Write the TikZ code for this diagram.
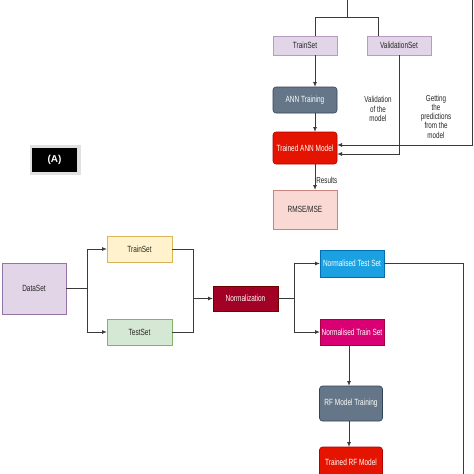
\documentclass[tikz,border=0pt]{standalone}
\usepackage{fontspec}
\setmainfont{Liberation Sans}[FakeStretch=0.72]
\newfontfamily\plainsans{Liberation Sans}
\usetikzlibrary{arrows.meta}
\definecolor{lnc}{HTML}{3A3A3A}
\definecolor{purf}{HTML}{E1D5E7}\definecolor{purd}{HTML}{9673A6}
\definecolor{yelf}{HTML}{FFF2CC}\definecolor{yeld}{HTML}{D6B656}
\definecolor{grnf}{HTML}{D5E8D4}\definecolor{grnd}{HTML}{82B366}
\definecolor{crimf}{HTML}{A20025}\definecolor{crimd}{HTML}{6F0000}
\definecolor{bluf}{HTML}{1BA1E2}\definecolor{blud}{HTML}{006EAF}
\definecolor{magf}{HTML}{D80073}\definecolor{magd}{HTML}{A50040}
\definecolor{slaf}{HTML}{647687}\definecolor{slad}{HTML}{314354}
\definecolor{redf}{HTML}{E51400}\definecolor{redd}{HTML}{B20000}
\definecolor{pinf}{HTML}{FAD9D5}\definecolor{pind}{HTML}{C9857D}
\begin{document}
\begin{tikzpicture}[x=1pt,y=-1pt,
  box/.style={rectangle,inner sep=0pt,outer sep=0pt,line width=0.6pt,align=center,
     font=\fontsize{9}{10}\selectfont,text=black!85},
  rbox/.style={box,rounded corners=3pt,text=white},
  ln/.style={draw=lnc,line width=0.9pt},
  arr/.style={ln,-{Latex[length=5pt,width=4pt]}},
  lbl/.style={align=center,inner sep=0pt,font=\fontsize{8.7}{9.2}\selectfont,text=black!85}]
\clip (0,0) rectangle (474,474);
\fill[white] (0,0) rectangle (474,474);

% ---- top part (ANN) ----
\node[box,fill=purf,draw=purd!70,minimum width=64pt,minimum height=19pt] (trainA) at (305,45.5) {TrainSet};
\node[box,fill=purf,draw=purd!70,minimum width=64pt,minimum height=19pt] (valA) at (399,45.5) {ValidationSet};
\node[rbox,fill=slaf,draw=slad,minimum width=64pt,minimum height=26pt] (annT) at (305,100) {ANN Training};
\node[rbox,fill=redf,draw=redd,minimum width=64pt,minimum height=32pt] (annM) at (305,148) {Trained ANN Model};
\node[box,fill=pinf,draw=pind,minimum width=64pt,minimum height=39pt] (rmse) at (305,209.5) {RMSE/MSE};

\coordinate (topin) at (347,-3);
\coordinate (tj) at (347,17);
\coordinate (rtop) at (472,-3);
\draw[ln] (topin) -- (tj);
\draw[ln] (tj) -| ([xshift=10pt]trainA.north);
\draw[ln] (tj) -| ([xshift=-21pt]valA.north);
\draw[arr] ([xshift=10pt]trainA.south) -- ([xshift=10pt]annT.north);
\draw[arr] ([xshift=10pt]annT.south) -- ([xshift=10pt]annM.north);
\draw[arr] (valA.south) |- ([yshift=-6pt]annM.east);
\draw[arr] (rtop) |- ([yshift=3pt]annM.east);
\draw[arr] ([xshift=10pt]annM.south) -- node[right,lbl,xshift=1pt,yshift=-3pt]{Results} ([xshift=10pt]rmse.north);

\node[lbl] (lv) at (378,109) {Validation\\of the\\model};
\node[lbl] (lg) at (436,116.5) {Getting\\the\\predictions\\from the\\model};

% ---- (A) label ----
\node[rectangle,fill=black!12,minimum width=51pt,minimum height=30pt,inner sep=0pt] (Ash) at (55,160) {};
\node[rectangle,fill=black,minimum width=45pt,minimum height=24pt,inner sep=0pt,text=white,font=\plainsans\fontsize{10}{11}\selectfont\bfseries] (A) at (54.5,160) {(A)};

% ---- bottom part (RF) ----
\node[box,fill=purf,draw=purd,minimum width=64pt,minimum height=51pt] (ds) at (34,288.5) {DataSet};
\node[box,fill=yelf,draw=yeld,minimum width=65pt,minimum height=26pt] (trB) at (139.5,249) {TrainSet};
\node[box,fill=grnf,draw=grnd,minimum width=65pt,minimum height=26pt] (teB) at (139.5,332) {TestSet};
\node[box,fill=crimf,draw=crimd,text=white,minimum width=65pt,minimum height=25pt] (norm) at (245.5,298.5) {Normalization};
\node[box,fill=bluf,draw=blud,text=white,minimum width=64pt,minimum height=27pt] (nts) at (352,263.5) {Normalised Test Set};
\node[box,fill=magf,draw=magd,text=white,minimum width=64pt,minimum height=26pt] (ntr) at (352,332) {Normalised Train Set};
\node[rbox,fill=slaf,draw=slad,minimum width=63pt,minimum height=35pt] (rft) at (351,403.5) {RF Model Training};
\node[rbox,fill=redf,draw=redd,minimum width=63pt,minimum height=30pt] (rfm) at (351,462) {Trained RF Model};

\coordinate (j1) at (87,288.5);
\coordinate (j2) at (193,298.5);
\coordinate (j3) at (294,298.5);
\coordinate (rb) at (463,480);
\draw[ln] (ds.east) -- (j1);
\draw[arr] (j1) |- (trB.west);
\draw[arr] (j1) |- (teB.west);
\draw[ln] (trB.east) -| (j2);
\draw[ln] (teB.east) -| (j2);
\draw[arr] (j2) -- (norm.west);
\draw[ln] (norm.east) -- (j3);
\draw[arr] (j3) |- (nts.west);
\draw[arr] (j3) |- (ntr.west);
\draw[ln] (nts.east) -| (rb);
\draw[arr] ([xshift=-3pt]ntr.south) -- ([xshift=-2pt]rft.north);
\draw[arr] ([xshift=-2pt]rft.south) -- ([xshift=-2pt]rfm.north);
\end{tikzpicture}
\end{document}
